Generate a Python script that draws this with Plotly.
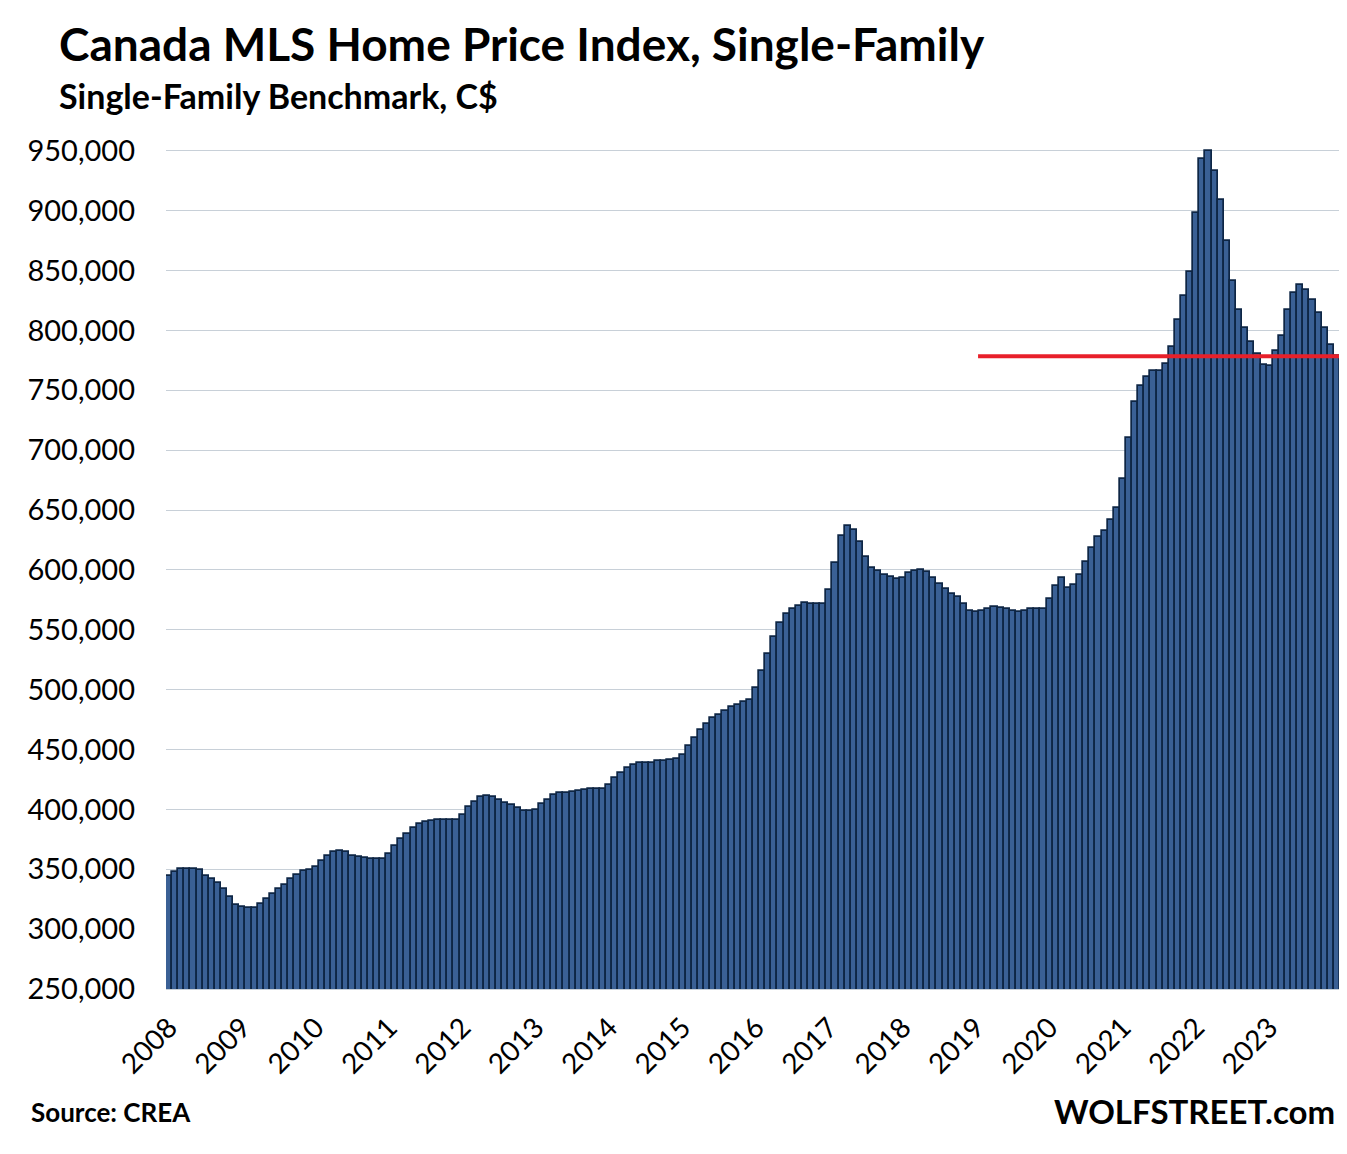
import plotly.graph_objects as go

# monthly single-family benchmark price, Jan 2008 - Dec 2023 (C$)
months = [f"{y}-{m:02d}" for y in range(2008, 2024) for m in range(1, 13)]
prices = [
    344700, 348000, 350000, 350500, 350000, 349200, 344400, 341900, 338600, 333300, 327200, 320500,  # 2008
    318800, 318000, 318000, 321300, 325500, 329700, 333300, 337200, 341600, 345300, 348300, 349200,  # 2009
    352200, 357200, 361100, 364800, 365600, 364200, 361400, 360600, 359500, 358600, 358600, 358600,  # 2010
    363100, 369500, 375300, 379800, 384800, 387600, 389300, 390400, 390900, 391300, 391300, 391300,  # 2011
    395500, 401700, 406400, 410000, 410900, 410000, 408100, 405600, 403600, 401100, 398900, 398900,  # 2012
    399400, 404700, 407800, 412200, 413900, 413900, 414500, 415600, 416400, 417300, 417300, 417300,  # 2013
    420600, 426400, 430300, 434800, 437000, 438400, 438400, 438400, 440600, 440600, 441500, 442300,  # 2014
    445400, 452900, 459900, 466300, 471500, 476600, 479100, 482100, 485200, 487400, 489400, 491300,  # 2015
    501300, 515800, 529800, 543800, 556000, 563300, 567700, 569900, 572400, 571600, 571600, 571600,  # 2016
    583300, 606100, 628700, 637000, 633700, 623400, 610600, 601900, 599200, 595800, 594200, 592200,  # 2017
    593300, 597800, 599200, 600300, 598100, 593600, 588300, 584400, 580200, 577700, 571600, 566000,  # 2018
    564600, 565500, 567700, 569400, 568000, 567100, 566000, 565200, 565800, 567700, 567700, 567700,  # 2019
    575500, 586900, 593600, 584700, 587700, 596100, 607000, 618700, 627300, 632900, 642000, 651500,  # 2020
    676300, 710500, 740300, 753800, 761100, 766100, 766100, 771700, 786200, 808700, 828800, 848800,  # 2021
    898400, 942900, 949900, 933200, 909000, 874700, 841300, 817100, 801800, 790400, 780600, 771400,  # 2022
    770300, 782900, 795400, 817100, 831300, 838000, 833800, 825200, 814600, 802100, 787900, 778500,  # 2023
]
years = list(range(2008, 2024))
y_ticks = list(range(250000, 950001, 50000))

FONT = "Lato"

fig = go.Figure()
fig.add_trace(go.Bar(
    x=months, y=prices,
    marker=dict(color="#3a6095", line=dict(color="#0e2645", width=1.7)),
))

# page body has an 8px margin, so the figure is a bit smaller than the window
fig.update_layout(
    width=1339, height=1146,
    margin=dict(l=158, r=7, t=141, b=165),
    plot_bgcolor="white", paper_bgcolor="white",
    bargap=0, showlegend=False,
    font=dict(family=FONT, color="black"),
)
fig.update_xaxes(
    type="category",
    tickvals=[f"{y}-01" for y in years],
    ticktext=[str(y) for y in years],
    tickangle=-45, tickfont=dict(size=28),
    showgrid=False, ticks="", showline=True, linecolor="#c8d0d8",
    ticklabelstandoff=10,
)
fig.update_yaxes(
    range=[250000, 951500],
    tickvals=y_ticks, tickformat=",d",
    tickfont=dict(size=29),
    showgrid=True, gridcolor="#c8d0d8", gridwidth=1,
    zeroline=False, ticks="", ticklabelstandoff=30,
)

# red reference line at the latest level
fig.add_shape(
    type="line", xref="paper", yref="y",
    x0=0.6917, x1=1.006, y0=prices[-1], y1=prices[-1],
    line=dict(color="#e8202a", width=4),
)

fig.add_annotation(
    text="<b>Canada MLS Home Price Index, Single-Family</b>",
    xref="paper", yref="paper", x=-0.0928, y=1.1255,
    xanchor="left", yanchor="middle", showarrow=False,
    font=dict(size=46, family=FONT),
)
fig.add_annotation(
    text="<b>Single-Family Benchmark, C$</b>",
    xref="paper", yref="paper", x=-0.0928, y=1.0635,
    xanchor="left", yanchor="middle", showarrow=False,
    font=dict(size=34, family=FONT),
)
fig.add_annotation(
    text="<b>Source: CREA</b>",
    xref="paper", yref="paper", x=-0.1167, y=-0.1468,
    xanchor="left", yanchor="middle", showarrow=False,
    font=dict(size=26, family=FONT),
)
fig.add_annotation(
    text="<b>WOLFSTREET.com</b>",
    xref="paper", yref="paper", x=0.9974, y=-0.1456,
    xanchor="right", yanchor="middle", showarrow=False,
    font=dict(size=33, family=FONT),
)

fig.write_html("out.html")
